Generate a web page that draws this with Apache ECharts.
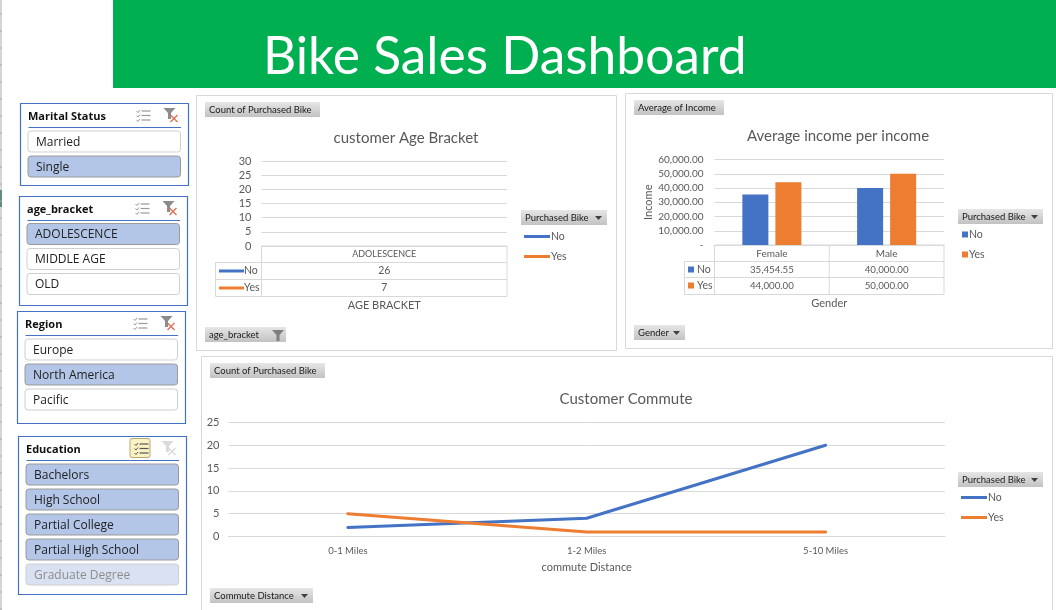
<!DOCTYPE html>
<html>
<head>
<meta charset="utf-8">
<title>Bike Sales Dashboard</title>
<script src="https://cdn.jsdelivr.net/npm/echarts@6/dist/echarts.min.js"></script>
<style>
	html, body { margin: 0; padding: 0; background: #fff; }
	#main { width: 1056px; height: 610px; }
</style>
</head>
<body>
<div id="main"></div>
<script>
var seriesNames = ['No', 'Yes'];

var ageCategories = ['ADOLESCENCE'];
var ageNo = [26];
var ageYes = [7];

var genderCategories = ['Female', 'Male'];
var incomeNo = [35454.55, 40000];
var incomeYes = [44000, 50000];

var commuteCategories = ['0-1 Miles', '1-2 Miles', '5-10 Miles'];
var commuteNo = [2, 4, 20];
var commuteYes = [5, 1, 1];

var maritalItems = ['Married', 'Single'];
var ageItems = ['ADOLESCENCE', 'MIDDLE AGE', 'OLD'];
var regionItems = ['Europe', 'North America', 'Pacific'];
var educationItems = ['Bachelors', 'High School', 'Partial College', 'Partial High School', 'Graduate Degree'];

var BLUE = '#4472C4';
var ORANGE = '#ED7D31';
var GREY_TEXT = '#595959';
var RULE = '#D9D9D9';
var CHART_FONT = 'Lato';
var SLICER_FONT = '"Open Sans"';

var shapes = [];

function txt(x, y, text, size, color, align, font, weight) {
	shapes.push({
		type: 'text',
		x: x,
		y: y,
		z: 10,
		style: {
			text: text,
			fontSize: size,
			fontFamily: font || CHART_FONT,
			fontWeight: weight || 'normal',
			fill: color || GREY_TEXT,
			align: align || 'left',
			verticalAlign: 'middle'
		}
	});
}

// boxes stay under the axes and series, same z keeps the push order
function box(x, y, w, h, fill, stroke, r, lineWidth) {
	shapes.push({
		type: 'rect',
		z: -2,
		shape: { x: x, y: y, width: w, height: h, r: r || 0 },
		style: { fill: fill, stroke: stroke || null, lineWidth: lineWidth || 1 }
	});
}

function rule(x1, y1, x2, y2, color, lineWidth) {
	shapes.push({
		type: 'line',
		z: -1,
		shape: { x1: x1, y1: y1, x2: x2, y2: y2 },
		style: { stroke: color, lineWidth: lineWidth || 1 }
	});
}

// grey pivot field button, arrow is optional
function fieldButton(x, y, w, label, arrow) {
	box(x, y, w, 15, {
		type: 'linear', x: 0, y: 0, x2: 0, y2: 1,
		colorStops: [{ offset: 0, color: '#E6E6E6' }, { offset: 1, color: '#C2C2C2' }]
	});
	txt(x + 4, y + 7.5, label, 9.5, '#1A1A1A');
	if (arrow) {
		shapes.push({
			type: 'polygon',
			z: 10,
			shape: { points: [[x + w - 12, y + 6], [x + w - 5, y + 6], [x + w - 8.5, y + 10]] },
			style: { fill: '#404040' }
		});
	}
}

// the age_bracket button has a funnel instead of the arrow
function funnel(x, y, color) {
	shapes.push({
		type: 'polygon',
		z: 10,
		shape: { points: [[x, y], [x + 12, y], [x + 7.5, y + 5], [x + 7.5, y + 11], [x + 4.5, y + 11], [x + 4.5, y + 5]] },
		style: { fill: color }
	});
}

function slicerIcons(x, y, active) {
	var i;
	if (active) {
		box(x - 4.5, y - 5.5, 20, 19, '#FBF3C4', '#B5A878', 2);
	}
	for (i = 0; i < 3; i++) {
		rule(x + 5, y + i * 4.5, x + 14, y + i * 4.5, active ? '#555' : '#999', 1.2);
		rule(x, y + i * 4.5, x + 1.5, y + 1.5 + i * 4.5, active ? '#555' : '#999', 1);
		rule(x + 1.5, y + 1.5 + i * 4.5, x + 3.5, y - 1 + i * 4.5, active ? '#555' : '#999', 1);
	}
	funnel(x + 27, y - 3, active ? '#DADADA' : '#8C8C8C');
	shapes.push({
		type: 'polyline',
		z: 11,
		shape: { points: [[x + 34, y + 4], [x + 41, y + 11]] },
		style: { stroke: active ? '#DADADA' : '#E0705A', lineWidth: 1.4 }
	});
	shapes.push({
		type: 'polyline',
		z: 11,
		shape: { points: [[x + 41, y + 4], [x + 34, y + 11]] },
		style: { stroke: active ? '#DADADA' : '#E0705A', lineWidth: 1.4 }
	});
}

// selected: list of item names that are on, faded: names without data
function slicer(x, y, w, h, title, items, selected, faded, buttonTop, active) {
	var i, fill, stroke, color, top;
	box(x, y, w, h, '#fff', BLUE, 0, 1.2);
	txt(x + 7.5, y + 13, title, 11, '#111', 'left', SLICER_FONT, 'bold');
	rule(x + 8, y + 24, x + w - 7.5, y + 24, BLUE, 1);
	slicerIcons(x + 116, y + 7.5, active);
	for (i = 0; i < items.length; i++) {
		top = y + buttonTop + i * 25;
		fill = '#fff';
		stroke = '#CFCFCF';
		color = '#222';
		if (selected.indexOf(items[i]) >= 0) {
			fill = '#B4C6E7';
			stroke = '#9A9A9A';
		}
		if (faded.indexOf(items[i]) >= 0) {
			fill = '#D9E1F2';
			stroke = '#CFCFCF';
			color = '#8C8C8C';
		}
		box(x + 7.5, top, w - 15.5, 21, fill, stroke, 3);
		txt(x + 15.5, top + 11.5, items[i], 12, color, 'left', SLICER_FONT);
	}
}

function legendKeyLine(x, y, color) {
	rule(x, y, x + 25, y, color, 3);
}

function legendKeySquare(x, y, color) {
	box(x, y - 3, 6, 6, color);
}

// data table under a chart, values come from the same arrays as the series
function dataTable(left, axisLeft, right, top, rows, categories, values, formatter, keyFn, keyLabelX, valueSize) {
	var colW = (right - axisLeft) / categories.length;
	var rowH = (rows[1] - rows[0]);
	var i, j;
	rule(axisLeft, top, axisLeft, rows[2], RULE);
	rule(right, top, right, rows[2], RULE);
	rule(axisLeft, top, right, top, RULE);
	for (i = 0; i < 3; i++) {
		rule(left, rows[i], right, rows[i], RULE);
	}
	rule(left, rows[0], left, rows[2], RULE);
	for (j = 1; j < categories.length; j++) {
		rule(axisLeft + j * colW, top, axisLeft + j * colW, rows[2], RULE);
	}
	for (i = 0; i < seriesNames.length; i++) {
		var rowMid = rows[i] + rowH / 2;
		keyFn(left + 3.5, rowMid, i == 0 ? BLUE : ORANGE);
		txt(keyLabelX, rowMid, seriesNames[i], 10.5);
		for (j = 0; j < categories.length; j++) {
			txt(axisLeft + (j + 0.5) * colW, rowMid, formatter(values[i][j]), valueSize, GREY_TEXT, 'center');
		}
	}
}

function money(v) {
	return v.toLocaleString('en-US', { minimumFractionDigits: 2, maximumFractionDigits: 2 });
}

// panels go first so everything else sits on top of them
box(196.5, 95.5, 420, 255, '#fff', RULE);
box(625.5, 93.5, 427, 255, '#fff', RULE);
box(201.5, 356.5, 851, 260, '#fff', RULE);

// sheet background and banner
rule(1, 0, 1, 610, '#ABABAB');
for (var t = 14; t < 610; t += 17) {
	rule(0, t, 2, t, '#ABABAB');
}
box(0, 190, 2, 17, '#1E7145');
box(113, 0, 943, 88, '#00B050');
txt(263, 57, 'Bike Sales Dashboard', 51.5, '#fff');

// slicers
slicer(20.5, 103.5, 168, 82, 'Marital Status', maritalItems, ['Single'], [], 27.5);
slicer(19.5, 196.5, 168, 109, 'age_bracket', ageItems, ['ADOLESCENCE'], [], 27);
slicer(17.5, 311.5, 168, 112, 'Region', regionItems, ['North America'], [], 27.5);
slicer(18.5, 436.5, 168, 158, 'Education', educationItems,
	['Bachelors', 'High School', 'Partial College', 'Partial High School'], ['Graduate Degree'], 27.5, true);

fieldButton(205, 102, 115, 'Count of Purchased Bike');
fieldButton(205, 327, 81, 'age_bracket');
funnel(272, 330, '#7F7F7F');
fieldButton(521, 210, 86, 'Purchased Bike', true);

fieldButton(634, 100, 90, 'Average of Income');
fieldButton(634, 325, 51, 'Gender', true);
fieldButton(958, 209, 85, 'Purchased Bike', true);

fieldButton(210, 363, 115, 'Count of Purchased Bike');
fieldButton(210, 588, 103, 'Commute Distance', true);
fieldButton(958, 472, 85, 'Purchased Bike', true);

// data tables
dataTable(215.5, 261.5, 507, 246, [262.5, 279.5, 296.5], ageCategories, [ageNo, ageYes],
	function(v) { return String(v); }, legendKeyLine, 244, 10.5);
dataTable(684.5, 714.5, 944, 245, [261.5, 277.5, 294.5], genderCategories, [incomeNo, incomeYes],
	money, legendKeySquare, 697, 9.7);

var chart = echarts.init(document.getElementById('main'));

function valueAxis(gridIndex, max, interval, margin, extra) {
	var axis = {
		type: 'value',
		gridIndex: gridIndex,
		min: 0,
		max: max,
		interval: interval,
		axisLine: { show: false },
		axisTick: { show: false },
		axisLabel: { color: GREY_TEXT, fontFamily: CHART_FONT, fontSize: 11, margin: margin },
		splitLine: { lineStyle: { color: RULE, width: 1 } }
	};
	for (var k in extra) {
		axis[k] = extra[k];
	}
	return axis;
}

function categoryAxis(gridIndex, data, name, nameGap, margin, labelSize) {
	return {
		type: 'category',
		gridIndex: gridIndex,
		data: data,
		name: name,
		nameLocation: 'middle',
		nameGap: nameGap,
		nameTextStyle: { color: GREY_TEXT, fontFamily: CHART_FONT, fontSize: 11 },
		axisLine: { lineStyle: { color: RULE } },
		axisTick: { show: false },
		axisLabel: { color: GREY_TEXT, fontFamily: CHART_FONT, fontSize: labelSize, margin: margin, interval: 0 }
	};
}

function lineSeries(name, index, data, color) {
	return {
		name: name,
		type: 'line',
		xAxisIndex: index,
		yAxisIndex: index,
		data: data,
		showSymbol: false,
		symbol: 'none',
		itemStyle: { color: color },
		lineStyle: { color: color, width: 3, cap: 'round' }
	};
}

function barSeries(name, index, data, color) {
	return {
		name: name,
		type: 'bar',
		xAxisIndex: index,
		yAxisIndex: index,
		data: data,
		barWidth: 26,
		barGap: '27%',
		itemStyle: { color: color }
	};
}

function chartTitle(text, x, y) {
	return {
		text: text,
		left: x,
		top: y,
		textAlign: 'center',
		textVerticalAlign: 'middle',
		textStyle: { color: GREY_TEXT, fontFamily: CHART_FONT, fontSize: 15, fontWeight: 'normal' }
	};
}

function seriesLegend(x, y, iconW, iconH) {
	return {
		data: seriesNames,
		orient: 'vertical',
		left: x,
		top: y,
		icon: 'rect',
		itemWidth: iconW,
		itemHeight: iconH,
		itemGap: 9,
		selectedMode: false,
		textStyle: { color: GREY_TEXT, fontFamily: CHART_FONT, fontSize: 10.5, padding: [0, 0, 0, -4] }
	};
}

var option = {
	animation: false,
	backgroundColor: '#fff',
	title: [
		chartTitle('customer Age Bracket', 401, 133),
		chartTitle('Average income per income', 833, 131),
		chartTitle('Customer Commute', 621, 394)
	],
	legend: [
		seriesLegend(519, 226, 26, 3),
		seriesLegend(957, 224, 6, 6),
		seriesLegend(956, 487, 26, 3)
	],
	grid: [
		{ left: 261.5, top: 161, width: 245.5, height: 85 },
		{ left: 714.5, top: 159.5, width: 229.5, height: 85.5 },
		{ left: 228.4, top: 422.5, width: 716.6, height: 114 }
	],
	xAxis: [
		categoryAxis(0, ageCategories, 'AGE BRACKET', 54, 4, 9),
		categoryAxis(1, genderCategories, 'Gender', 53, 4, 10),
		categoryAxis(2, commuteCategories, 'commute Distance', 25, 9, 9.5)
	],
	yAxis: [
		valueAxis(0, 30, 5, 10),
		valueAxis(1, 60000, 10000, 11, {
			name: 'Income',
			nameLocation: 'middle',
			nameGap: 59,
			nameTextStyle: { color: GREY_TEXT, fontFamily: CHART_FONT, fontSize: 11 },
			axisLabel: {
				color: GREY_TEXT,
				fontFamily: CHART_FONT,
				fontSize: 10,
				margin: 11,
				formatter: function(v) { return v == 0 ? '-' : money(v); }
			}
		}),
		valueAxis(2, 25, 5, 9)
	],
	series: [
		lineSeries('No', 0, ageNo, BLUE),
		lineSeries('Yes', 0, ageYes, ORANGE),
		barSeries('No', 1, incomeNo, BLUE),
		barSeries('Yes', 1, incomeYes, ORANGE),
		lineSeries('No', 2, commuteNo, BLUE),
		lineSeries('Yes', 2, commuteYes, ORANGE)
	],
	graphic: { elements: shapes }
};
chart.setOption(option);

window.onresize = function() {
	chart.resize();
}
</script>
</body>
</html>
